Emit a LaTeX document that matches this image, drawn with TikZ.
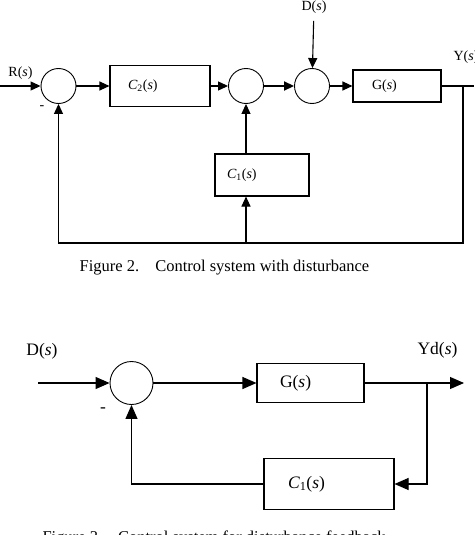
\documentclass[tikz,border=0pt]{standalone}
\usepackage{fontspec}
\setmainfont{Liberation Serif}
\usetikzlibrary{arrows.meta}

\tikzset{
    sumc/.style={draw, circle, line width=0.9pt, minimum size=35pt, inner sep=0pt},
    blk/.style={draw, rectangle, line width=1.1pt, align=left},
    lab/.style={font=\fontsize{14}{16}\selectfont, inner sep=0pt},
    labb/.style={font=\fontsize{17.5}{20}\selectfont, inner sep=0pt},
    capt/.style={font=\fontsize{16.5}{19}\selectfont, inner sep=0pt},
}

\begin{document}
\begin{tikzpicture}[x=1pt, y=-1pt, line width=1.1pt, >={Triangle[length=10pt,width=9pt]}]
                    \clip (0,0) rectangle (474,535);
                    \fill[white] (0,0) rectangle (474,535);

                    % upper diagram
                    \foreach \x/\myname in {58.5/s1, 246/s2, 312/s3} {
                        \node[sumc] (\myname) at (\x,86) {};
                    }
                    \node[blk, lab, text width=64pt, inner xsep=18pt, minimum height=41pt] (c2) at (160,86) {\textit{C}\textsubscript{2}(\textit{s})};
                    \node[blk, lab, text width=50pt, inner xsep=19pt, minimum height=32pt] (g) at (397,86) {G(\textit{s})};
                    \node[blk, lab, text width=70pt, inner xsep=12pt, minimum height=42pt] (c1) at (262,175) {\textit{C}\textsubscript{1}(\textit{s})};

                    \node[lab] (r) at (20.5,73) {R(\textit{s})};
                    \node[lab] (d) at (314,7) {D(\textit{s})};
                    \node[lab, anchor=west] (y) at (453,57) {Y(\textit{s})};
                    \node[lab] (m1) at (42,108) {-};

                    \coordinate (rin) at (0,86);
                    \coordinate (yout) at (474,86);
                    \coordinate (br) at (463,86);
                    \coordinate (fb) at (463,243);

                    \draw[->] (rin) -- (s1);
                    \draw[->] (s1) -- (c2);
                    \draw[->] (c2) -- (s2);
                    \draw[->, line width=1.8pt] (s2) -- (s3);
                    \draw[->] (s3) -- (g);
                    \draw[->, shorten <=7pt] (d) -- (s3);
                    \draw (g) -- (yout);
                    \draw[->] (br) -- (fb) -| (s1);
                    \draw[->] (s2 |- fb) -- (s2 |- c1.south);
                    \draw[->] (s2 |- c1.north) -- (s2);

                    \node[capt] (cap1) at (224.5,268) {Figure 2.\hspace{16pt}Control system with disturbance};

                    % lower diagram
                    \begin{scope}[>={Triangle[length=14pt,width=12pt]}]
                        \node[sumc, minimum size=43pt] (s4) at (131.5,383) {};
                        \node[blk, labb, text width=61pt, inner xsep=23pt, minimum height=39pt] (g2) at (310.5,383) {G(\textit{s})};
                        \node[blk, labb, text width=82pt, inner xsep=24pt, minimum height=51pt] (c3) at (329,484) {\textit{C}\textsubscript{1}(\textit{s})};

                        \node[labb] (d2) at (42,351) {D(\textit{s})};
                        \node[labb] (yd) at (437.5,350) {Yd(\textit{s})};
                        \node[labb] (m2) at (103,410) {-};

                        \coordinate (din) at (38,383);
                        \coordinate (ydout) at (464,383);
                        \coordinate (br2) at (427,383);

                        \draw[->] (din) -- (s4);
                        \draw[->] (s4) -- (g2);
                        \draw[->] (g2) -- (ydout);
                        \draw[->] (br2) |- (c3);
                        \draw[->] (c3) -| (s4);
                    \end{scope}

                    \node[capt, anchor=base west] (cap2) at (42,542) {Figure 3.\hspace{16pt}Control system for disturbance feedback};
                \end{tikzpicture}
\end{document}
